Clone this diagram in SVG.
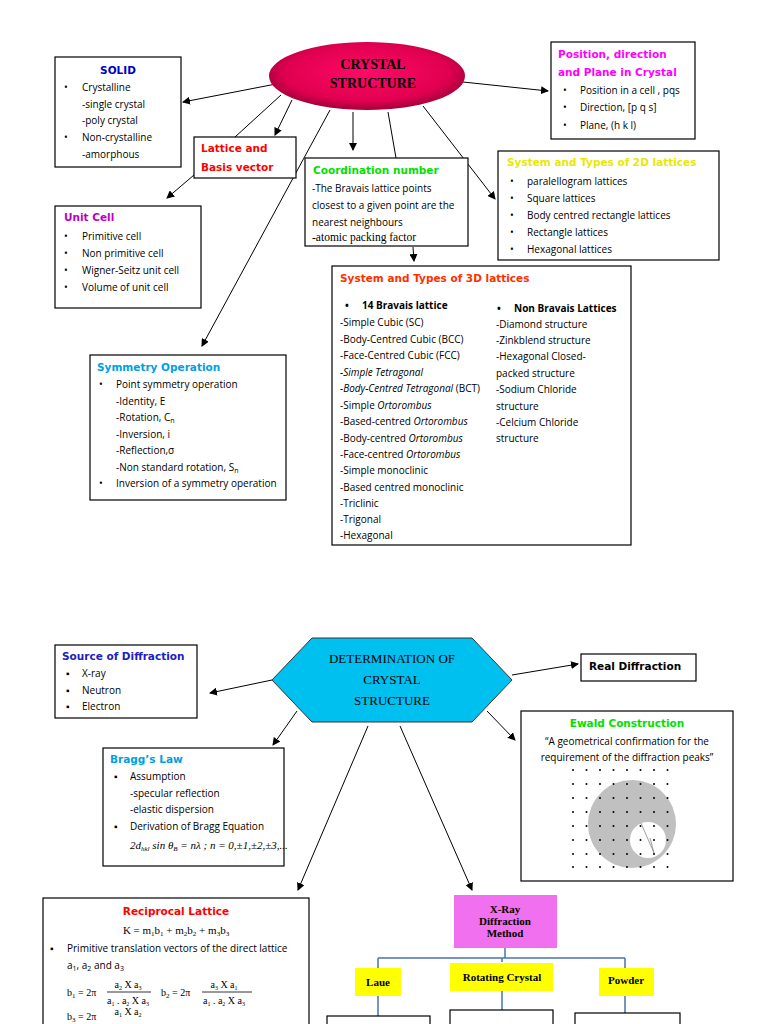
<svg xmlns="http://www.w3.org/2000/svg" width="768" height="1024" viewBox="0 0 768 1024">
<style>
.box{fill:#fff;stroke:#000;stroke-width:1.2}
.t{font-family:"Open Sans","Liberation Sans",sans-serif;font-size:10px;fill:#000}
.h{font-family:"DejaVu Sans",sans-serif;font-size:10.5px;font-weight:bold}
.s{font-family:"Liberation Serif",serif;fill:#000}
.c line,.c path{stroke:#000;stroke-width:1;fill:none}
</style>
<defs>
<marker id="a" markerWidth="8" markerHeight="8" refX="7" refY="4" orient="auto" markerUnits="userSpaceOnUse"><path d="M0,0L8,4L0,8z" fill="#000"/></marker>
<radialGradient id="g" cx="0.5" cy="0.45" r="0.6"><stop offset="0" stop-color="#ff0a68"/><stop offset="0.7" stop-color="#e0004f"/><stop offset="1" stop-color="#8a0030"/></radialGradient>
</defs>
<rect width="768" height="1024" fill="#fff"/>
<g class="c">
<line x1="276" y1="84" x2="183" y2="102" marker-end="url(#a)"/>
<line x1="292" y1="100" x2="275" y2="135" marker-end="url(#a)"/>
<line x1="281" y1="95" x2="235" y2="137"/>
<line x1="194" y1="175" x2="167" y2="198" marker-end="url(#a)"/>
<line x1="330" y1="110" x2="202" y2="346" marker-end="url(#a)"/>
<line x1="353" y1="112" x2="353" y2="150" marker-end="url(#a)"/>
<line x1="388" y1="112" x2="396" y2="158"/>
<line x1="423" y1="106" x2="495" y2="199" marker-end="url(#a)"/>
<line x1="463" y1="82" x2="548" y2="91" marker-end="url(#a)"/>
<line x1="413" y1="247" x2="414" y2="261" marker-end="url(#a)"/>
<line x1="272" y1="680" x2="210" y2="693" marker-end="url(#a)"/>
<line x1="297" y1="711" x2="273" y2="745" marker-end="url(#a)"/>
<line x1="487" y1="711" x2="515" y2="740" marker-end="url(#a)"/>
<line x1="512" y1="675" x2="578" y2="664" marker-end="url(#a)"/>
<line x1="368" y1="726" x2="298" y2="890" marker-end="url(#a)"/>
<line x1="400" y1="726" x2="472" y2="890" marker-end="url(#a)"/>
<path d="M505,948V958M378,958H625M378,958V968M502,958V962M625,958V968M378,996V1016M502,991V1010M625,996V1013" style="stroke:#4a74a8;stroke-width:1.5"/>
</g>
<g id="crystal">
<ellipse cx="367" cy="76" rx="98" ry="34" fill="url(#g)"/>
<text class="s" x="373" y="69" font-size="14" font-weight="bold" fill="#222" text-anchor="middle">CRYSTAL</text>
<text class="s" x="373" y="88" font-size="14" font-weight="bold" fill="#222" text-anchor="middle">STRUCTURE</text>
</g>
<g id="solid">
<rect class="box" x="55" y="57" width="126" height="110"/>
<text class="h" x="118" y="74" fill="#0000c0" text-anchor="middle">SOLID</text>
<text class="t" x="64" y="91">•</text><text class="t" x="82" y="91">Crystalline</text>
<text class="t" x="82" y="108">-single crystal</text>
<text class="t" x="82" y="124">-poly crystal</text>
<text class="t" x="64" y="141">•</text><text class="t" x="82" y="141">Non-crystalline</text>
<text class="t" x="82" y="158">-amorphous</text>
</g>
<g id="position">
<rect class="box" x="551" y="42" width="144" height="97"/>
<text class="h" x="558" y="58" fill="#ff00ff">Position, direction</text>
<text class="h" x="558" y="76" fill="#ff00ff">and Plane in Crystal</text>
<text class="t" x="563" y="94">•</text><text class="t" x="580" y="94">Position in a cell , pqs</text>
<text class="t" x="563" y="111">•</text><text class="t" x="580" y="111">Direction, [p q  s]</text>
<text class="t" x="563" y="129">•</text><text class="t" x="580" y="129">Plane, (h k l)</text>
</g>
<g id="lattice">
<rect class="box" x="194" y="137" width="102" height="41"/>
<text class="h" x="201" y="152" fill="#ff0000">Lattice and</text>
<text class="h" x="201" y="171" fill="#ff0000">Basis vector</text>
</g>
<g id="coord">
<rect class="box" x="305" y="158" width="163" height="88"/>
<text class="h" x="313" y="174" fill="#00e000">Coordination number</text>
<text class="t" x="312" y="192">-The Bravais lattice points</text>
<text class="t" x="312" y="209">closest to a given point are the</text>
<text class="t" x="312" y="226">nearest neighbours</text>
<text class="s" x="312" y="241" font-size="11.5">-atomic packing factor</text>
</g>
<g id="lat2d">
<rect class="box" x="498" y="151" width="221" height="109"/>
<text class="h" x="507" y="166" fill="#e8e800">System and Types of 2D lattices</text>
<text class="t" x="510" y="185">•</text><text class="t" x="527" y="185">paralellogram lattices</text>
<text class="t" x="510" y="202">•</text><text class="t" x="527" y="202">Square lattices</text>
<text class="t" x="510" y="219">•</text><text class="t" x="527" y="219">Body centred rectangle lattices</text>
<text class="t" x="510" y="236">•</text><text class="t" x="527" y="236">Rectangle lattices</text>
<text class="t" x="510" y="253">•</text><text class="t" x="527" y="253">Hexagonal lattices</text>
</g>
<g id="unitcell">
<rect class="box" x="55" y="206" width="146" height="102"/>
<text class="h" x="64" y="221" fill="#c000c0">Unit Cell</text>
<text class="t" x="64" y="240">•</text><text class="t" x="82" y="240">Primitive cell</text>
<text class="t" x="64" y="257">•</text><text class="t" x="82" y="257">Non primitive cell</text>
<text class="t" x="64" y="274">•</text><text class="t" x="82" y="274">Wigner-Seitz unit cell</text>
<text class="t" x="64" y="291">•</text><text class="t" x="82" y="291">Volume of unit cell</text>
</g>
<g id="lat3d">
<rect class="box" x="332" y="266" width="299" height="279"/>
<text class="h" x="340" y="282" fill="#ff3000">System and Types of 3D lattices</text>
<text class="t" x="345" y="309" font-weight="bold">•</text><text class="t" x="362" y="309" font-weight="bold">14 Bravais lattice</text>
<text class="t" x="340" y="326">-Simple Cubic (SC)</text>
<text class="t" x="340" y="343">-Body-Centred Cubic (BCC)</text>
<text class="t" x="340" y="359">-Face-Centred Cubic (FCC)</text>
<text class="t" x="340" y="376" font-style="italic">-Simple Tetragonal</text>
<text class="t" x="340" y="392"><tspan font-style="italic">-Body-Centred Tetragonal</tspan> (BCT)</text>
<text class="t" x="340" y="409">-Simple <tspan font-style="italic">Ortorombus</tspan></text>
<text class="t" x="340" y="425">-Based-centred <tspan font-style="italic">Ortorombus</tspan></text>
<text class="t" x="340" y="442">-Body-centred <tspan font-style="italic">Ortorombus</tspan></text>
<text class="t" x="340" y="458">-Face-centred <tspan font-style="italic">Ortorombus</tspan></text>
<text class="t" x="340" y="474">-Simple monoclinic</text>
<text class="t" x="340" y="491">-Based centred monoclinic</text>
<text class="t" x="340" y="507">-Triclinic</text>
<text class="t" x="340" y="523">-Trigonal</text>
<text class="t" x="340" y="539">-Hexagonal</text>
<text class="t" x="497" y="312" font-weight="bold">•</text><text class="t" x="514" y="312" font-weight="bold">Non Bravais Lattices</text>
<text class="t" x="496" y="328">-Diamond structure</text>
<text class="t" x="496" y="344">-Zinkblend structure</text>
<text class="t" x="496" y="360">-Hexagonal Closed-</text>
<text class="t" x="496" y="377">packed structure</text>
<text class="t" x="496" y="393">-Sodium Chloride</text>
<text class="t" x="496" y="410">structure</text>
<text class="t" x="496" y="426">-Celcium Chloride</text>
<text class="t" x="496" y="442">structure</text>
</g>
<g id="symmetry">
<rect class="box" x="90" y="355" width="196" height="145"/>
<text class="h" x="97" y="371" fill="#00a0e0">Symmetry Operation</text>
<text class="t" x="99" y="388">•</text><text class="t" x="116" y="388">Point symmetry operation</text>
<text class="t" x="116" y="405">-Identity, E</text>
<text class="t" x="116" y="421">-Rotation, C<tspan font-size="7" dy="2">n</tspan></text>
<text class="t" x="116" y="438">-Inversion, i</text>
<text class="t" x="116" y="454">-Reflection,σ</text>
<text class="t" x="116" y="471">-Non standard rotation, S<tspan font-size="7" dy="2">n</tspan></text>
<text class="t" x="99" y="487">•</text><text class="t" x="116" y="487">Inversion of a symmetry operation</text>
</g>
<g id="source">
<rect class="box" x="55" y="645" width="142" height="73"/>
<text class="h" x="62" y="660" fill="#2020c0">Source of Diffraction</text>
<text class="t" x="66" y="677">▪</text><text class="t" x="82" y="677">X-ray</text>
<text class="t" x="66" y="694">▪</text><text class="t" x="82" y="694">Neutron</text>
<text class="t" x="66" y="710">▪</text><text class="t" x="82" y="710">Electron</text>
</g>
<g id="determination">
<polygon points="272,680 312,638 472,638 512,680 472,722 312,722" fill="#00c0f0" stroke="#333" stroke-width="1"/>
<text class="s" x="392" y="663" font-size="13" text-anchor="middle">DETERMINATION OF</text>
<text class="s" x="392" y="684" font-size="13" text-anchor="middle">CRYSTAL</text>
<text class="s" x="392" y="705" font-size="13" text-anchor="middle">STRUCTURE</text>
</g>
<g id="real">
<rect class="box" x="581" y="654" width="115" height="27"/>
<text class="h" x="589" y="670" fill="#000">Real Diffraction</text>
</g>
<g id="ewald">
<rect class="box" x="521" y="711" width="212" height="170"/>
<text class="h" x="627" y="727" fill="#00e000" text-anchor="middle">Ewald Construction</text>
<text class="t" x="627" y="745" text-anchor="middle">“A geometrical confirmation for the</text>
<text class="t" x="627" y="761" text-anchor="middle">requirement of the diffraction peaks”</text>
<circle cx="632" cy="824" r="44" fill="#c0c0c0"/>
<circle cx="648" cy="840" r="18" fill="#fff"/>
<g fill="#000">
<circle cx="573" cy="770" r="1"/><circle cx="586.5" cy="770" r="1"/><circle cx="600" cy="770" r="1"/><circle cx="613.5" cy="770" r="1"/><circle cx="627" cy="770" r="1"/><circle cx="640.5" cy="770" r="1"/><circle cx="654" cy="770" r="1"/><circle cx="667.5" cy="770" r="1"/>
<circle cx="573" cy="784" r="1"/><circle cx="586.5" cy="784" r="1"/><circle cx="600" cy="784" r="1"/><circle cx="613.5" cy="784" r="1"/><circle cx="627" cy="784" r="1"/><circle cx="640.5" cy="784" r="1"/><circle cx="654" cy="784" r="1"/><circle cx="667.5" cy="784" r="1"/>
<circle cx="573" cy="798" r="1"/><circle cx="586.5" cy="798" r="1"/><circle cx="600" cy="798" r="1"/><circle cx="613.5" cy="798" r="1"/><circle cx="627" cy="798" r="1"/><circle cx="640.5" cy="798" r="1"/><circle cx="654" cy="798" r="1"/><circle cx="667.5" cy="798" r="1"/>
<circle cx="573" cy="812" r="1"/><circle cx="586.5" cy="812" r="1"/><circle cx="600" cy="812" r="1"/><circle cx="613.5" cy="812" r="1"/><circle cx="627" cy="812" r="1"/><circle cx="640.5" cy="812" r="1"/><circle cx="654" cy="812" r="1"/><circle cx="667.5" cy="812" r="1"/>
<circle cx="573" cy="826" r="1"/><circle cx="586.5" cy="826" r="1"/><circle cx="600" cy="826" r="1"/><circle cx="613.5" cy="826" r="1"/><circle cx="627" cy="826" r="1"/><circle cx="640.5" cy="826" r="1"/><circle cx="654" cy="826" r="1"/><circle cx="667.5" cy="826" r="1"/>
<circle cx="573" cy="840" r="1"/><circle cx="586.5" cy="840" r="1"/><circle cx="600" cy="840" r="1"/><circle cx="613.5" cy="840" r="1"/><circle cx="627" cy="840" r="1"/><circle cx="640.5" cy="840" r="1"/><circle cx="654" cy="840" r="1"/><circle cx="667.5" cy="840" r="1"/>
<circle cx="573" cy="854" r="1"/><circle cx="586.5" cy="854" r="1"/><circle cx="600" cy="854" r="1"/><circle cx="613.5" cy="854" r="1"/><circle cx="627" cy="854" r="1"/><circle cx="640.5" cy="854" r="1"/><circle cx="654" cy="854" r="1"/><circle cx="667.5" cy="854" r="1"/>
<circle cx="573" cy="867" r="1"/><circle cx="586.5" cy="867" r="1"/><circle cx="600" cy="867" r="1"/><circle cx="613.5" cy="867" r="1"/><circle cx="627" cy="867" r="1"/><circle cx="640.5" cy="867" r="1"/><circle cx="654" cy="867" r="1"/><circle cx="667.5" cy="867" r="1"/>
</g>
<line x1="641" y1="823" x2="654" y2="853" stroke="#888" stroke-width="0.8"/>
<line x1="650" y1="838" x2="654" y2="853" stroke="#888" stroke-width="0.8"/>
</g>
<g id="bragg">
<rect class="box" x="103" y="748" width="181" height="118"/>
<text class="h" x="110" y="763" fill="#00a0e0">Bragg’s Law</text>
<text class="t" x="114" y="780">▪</text><text class="t" x="130" y="780">Assumption</text>
<text class="t" x="130" y="797">-specular reflection</text>
<text class="t" x="130" y="813">-elastic dispersion</text>
<text class="t" x="114" y="830">▪</text><text class="t" x="130" y="830">Derivation of Bragg Equation</text>
<text class="s" x="130" y="849" font-size="11" font-style="italic">2d<tspan font-size="7" dy="2">hkl</tspan><tspan dy="-2"> sin θ</tspan><tspan font-size="7" dy="2">B</tspan><tspan dy="-2"> = nλ  ;    n = 0,±1,±2,±3,...</tspan></text>
</g>
<g id="reciprocal">
<rect class="box" x="43" y="898" width="266" height="140"/>
<text class="h" x="176" y="915" fill="#ff0000" text-anchor="middle">Reciprocal Lattice</text>
<text class="s" x="176" y="934" font-size="11" text-anchor="middle">K = m<tspan font-size="7" dy="2">1</tspan><tspan dy="-2">b</tspan><tspan font-size="7" dy="2">1</tspan><tspan dy="-2"> + m</tspan><tspan font-size="7" dy="2">2</tspan><tspan dy="-2">b</tspan><tspan font-size="7" dy="2">2</tspan><tspan dy="-2"> + m</tspan><tspan font-size="7" dy="2">3</tspan><tspan dy="-2">b</tspan><tspan font-size="7" dy="2">3</tspan></text>
<text class="t" x="50" y="952">▪</text><text class="t" x="67" y="952">Primitive translation vectors of the direct lattice</text>
<text class="t" x="67" y="969">a<tspan font-size="7" dy="2">1</tspan><tspan dy="-2">, a</tspan><tspan font-size="7" dy="2">2</tspan><tspan dy="-2">  and a</tspan><tspan font-size="7" dy="2">3</tspan></text>
<g class="s" font-size="10">
<text x="67" y="996">b<tspan font-size="7" dy="2">1</tspan><tspan dy="-2"> = 2π</tspan></text>
<text x="128" y="988" text-anchor="middle">a<tspan font-size="6" dy="2">2</tspan><tspan dy="-2"> X a</tspan><tspan font-size="6" dy="2">3</tspan></text>
<line x1="107" y1="992" x2="151" y2="992" stroke="#000" stroke-width="0.8"/>
<text x="128" y="1004" text-anchor="middle">a<tspan font-size="6" dy="2">1</tspan><tspan dy="-2"> . a</tspan><tspan font-size="6" dy="2">2</tspan><tspan dy="-2"> X a</tspan><tspan font-size="6" dy="2">3</tspan></text>
<text x="161" y="996">b<tspan font-size="7" dy="2">2</tspan><tspan dy="-2"> = 2π</tspan></text>
<text x="224" y="988" text-anchor="middle">a<tspan font-size="6" dy="2">3</tspan><tspan dy="-2"> X a</tspan><tspan font-size="6" dy="2">1</tspan></text>
<line x1="202" y1="992" x2="252" y2="992" stroke="#000" stroke-width="0.8"/>
<text x="224" y="1004" text-anchor="middle">a<tspan font-size="6" dy="2">1</tspan><tspan dy="-2"> . a</tspan><tspan font-size="6" dy="2">2</tspan><tspan dy="-2"> X a</tspan><tspan font-size="6" dy="2">3</tspan></text>
<text x="67" y="1020">b<tspan font-size="7" dy="2">3</tspan><tspan dy="-2"> = 2π</tspan></text>
<text x="128" y="1015" text-anchor="middle">a<tspan font-size="6" dy="2">1</tspan><tspan dy="-2"> X a</tspan><tspan font-size="6" dy="2">2</tspan></text>
</g>
</g>
<g id="xray">
<rect x="454" y="895" width="103" height="53" fill="#f070f0"/>
<text class="s" x="505" y="913" font-size="11" font-weight="bold" text-anchor="middle">X-Ray</text>
<text class="s" x="505" y="925" font-size="11" font-weight="bold" text-anchor="middle">Diffraction</text>
<text class="s" x="505" y="937" font-size="11" font-weight="bold" text-anchor="middle">Method</text>
</g>
<g id="laue"><rect x="355" y="968" width="46" height="28" fill="#ffff00"/><text class="s" x="378" y="986" font-size="11" font-weight="bold" text-anchor="middle">Laue</text></g>
<g id="rotating"><rect x="450" y="963" width="103" height="28" fill="#ffff00"/><text class="s" x="502" y="981" font-size="11" font-weight="bold" text-anchor="middle">Rotating Crystal</text></g>
<g id="powder"><rect x="599" y="968" width="55" height="28" fill="#ffff00"/><text class="s" x="626" y="984" font-size="11" font-weight="bold" text-anchor="middle">Powder</text></g>
<g id="bottom">
<rect class="box" x="327" y="1016" width="103" height="20" stroke-width="1.6"/>
<rect class="box" x="450" y="1010" width="103" height="26" stroke-width="1.6"/>
<rect class="box" x="575" y="1013" width="105" height="23" stroke-width="1.6"/>
</g>
</svg>
